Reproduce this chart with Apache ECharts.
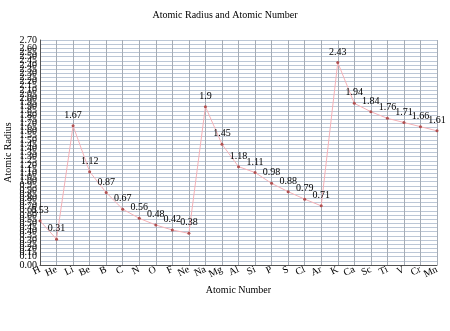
<!DOCTYPE html>
<html><head><meta charset="utf-8">
<script src="https://cdn.jsdelivr.net/npm/echarts@6/dist/echarts.min.js"></script>
<style>html,body{margin:0;padding:0;background:#fff}#c{width:450px;height:331px}</style>
</head><body><div id="c"></div>
<script>
var elements = ['H','He','Li','Be','B','C','N','O','F','Ne','Na','Mg','Al','Si','P','S','Cl','Ar','K','Ca','Sc','Ti','V','Cr','Mn'];
var radius = [0.53,0.31,1.67,1.12,0.87,0.67,0.56,0.48,0.42,0.38,1.9,1.45,1.18,1.11,0.98,0.88,0.79,0.71,2.43,1.94,1.84,1.76,1.71,1.66,1.61];
var titleText = 'Atomic Radius and Atomic Number';
var xName = 'Atomic Number';
var yName = 'Atomic Radius';
var ff = '"Liberation Serif","DejaVu Serif",serif';
var chart = echarts.init(document.getElementById('c'));
chart.setOption({
  animation: false,
  textStyle: {fontFamily: ff},
  title: {text: titleText, left: 'center', top: 5, textStyle: {fontFamily: ff, fontSize: 10, fontWeight: 'normal', color: '#000'}},
  grid: {left: 40, right: 13, top: 40, bottom: 66, containLabel: false, outerBoundsMode: 'none'},
  xAxis: {
    type: 'category', data: elements, boundaryGap: false,
    name: xName, nameLocation: 'middle', nameGap: 20, nameMoveOverlap: false,
    nameTextStyle: {fontFamily: ff, fontSize: 10, color: '#000'},
    axisLine: {lineStyle: {color: '#555'}},
    axisTick: {show: false},
    axisLabel: {rotate: 25, interval: 0, fontFamily: ff, fontSize: 10, color: '#000', margin: 4},
    splitLine: {show: true, lineStyle: {color: '#a6adb6', width: 1}}
  },
  yAxis: {
    type: 'value', min: 0, max: 2.7, interval: 0.05,
    name: yName, nameLocation: 'middle', nameGap: 27, nameMoveOverlap: false,
    nameTextStyle: {fontFamily: ff, fontSize: 10, color: '#000'},
    axisLine: {show: true, lineStyle: {color: '#555'}},
    axisTick: {show: false},
    axisLabel: {fontFamily: ff, fontSize: 10, color: '#000', margin: 3, hideOverlap: false, showMaxLabel: true, showMinLabel: true, formatter: function(v){return v.toFixed(2);}},
    splitLine: {show: true, lineStyle: {color: '#bcc7d6', width: 1}}
  },
  series: [{
    type: 'line', data: radius,
    symbol: 'circle', symbolSize: 3,
    itemStyle: {color: '#b05050'},
    lineStyle: {color: '#f4b0b6', width: 1},
    label: {show: true, position: 'top', distance: 4, fontFamily: ff, fontSize: 10, color: '#000'}
  }]
});
</script></body></html>
